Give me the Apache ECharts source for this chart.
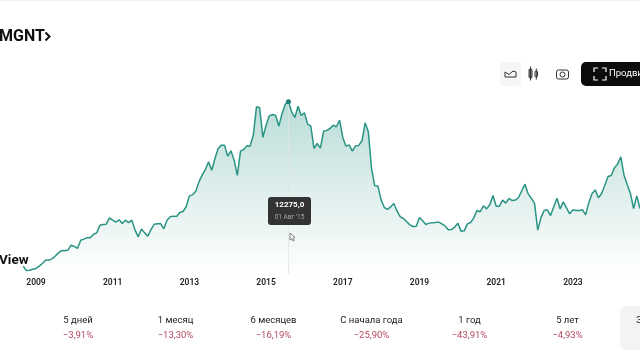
<!DOCTYPE html>
<html><head><meta charset="utf-8">
<style>html,body{margin:0;padding:0;background:#fff;overflow:hidden}#c{width:640px;height:360px}</style>
<script src="https://cdn.jsdelivr.net/npm/echarts@6/dist/echarts.min.js"></script>
</head><body><div id="c"></div>
<script>
const values = [1000,700,720,790,840,1000,1180,1410,1410,1500,1680,1910,2070,2050,2100,2440,2350,2210,2780,2850,2960,2940,3190,3280,3810,3860,3880,4310,4150,4020,4180,3920,4150,3990,4150,3470,3010,3540,3280,3060,3510,3880,3900,3920,3560,4150,4380,4430,4400,4680,4750,5070,5820,5890,6140,6780,7240,7630,8160,7580,8380,9070,9300,9300,8540,8910,8270,7220,8890,9000,9250,9230,9990,11930,11860,9830,10670,11310,11400,11330,10600,11470,12110,12275,11590,11200,11970,11330,11520,10740,10600,9070,9410,9090,10260,10310,10440,10670,10560,11010,9830,9230,9320,8890,9250,9280,9600,10830,10210,7700,6510,6490,5530,5020,4890,5070,5300,4770,4380,4270,4040,3830,3720,3740,4340,4110,3860,3950,3970,3990,4020,3900,3760,3490,3510,3670,3950,3400,3420,3900,3990,4310,4820,4730,5140,4930,5210,5850,5110,5110,5530,5320,5640,5500,5530,5710,6170,6620,5960,5660,5300,3470,4310,4820,4860,4470,5050,5660,4930,5410,5000,4590,4860,4820,4820,4860,4520,5370,5980,6230,5690,5980,6550,7150,7220,7740,8000,8500,7240,6600,5980,4950,5820,4950];
const tickYears = ['2009','2011','2013','2015','2017','2019','2021','2023'];
const statNames = ['5 дней','1 месяц','6 месяцев','С начала года','1 год','5 лет'];
const statValues = ['−3,91%','−13,30%','−16,19%','−25,90%','−43,91%','−4,93%'];
const highlightMonth = '2015-08';
const highlightValue = 12275;

const categories = values.map((_, i) => {
  const m = 8 + i;
  return (2008 + Math.floor(m / 12)) + '-' + String(m % 12 + 1).padStart(2, '0');
});
const FONT = 'Roboto, "Open Sans", sans-serif';
const TEAL = '#2a9484';
const statX = [78, 175.5, 273.5, 371.5, 469.5, 567.5];

const graphics = [];
function txt(x, y, text, o) {
  graphics.push({type:'text', x, y, silent:true, z:50, style:Object.assign({
    text, fontFamily:FONT, fontSize:9.5, fill:'#222', align:'center', verticalAlign:'middle'}, o||{})});
}
graphics.push({type:'rect', z:1, shape:{x:0,y:0,width:640,height:1}, style:{fill:'#f2f2f2'}});
txt(-1, 37, 'MGNT', {fontSize:16, fontWeight:700, align:'left', fill:'#111'});
graphics.push({type:'polyline', z:50, shape:{points:[[45.5,32.5],[49.5,36.5],[45.5,40.5]]}, style:{stroke:'#111', lineWidth:2, fill:null}});
txt(-1, 261, 'View', {fontSize:13.5, fontWeight:700, align:'left', fill:'#111'});
// toolbar
graphics.push({type:'rect', z:40, shape:{x:500,y:62,width:21,height:24,r:4}, style:{fill:'#f6f6f6'}});
graphics.push({type:'polyline', z:50, shape:{points:[[505,77],[505,72],[509,74.5],[513,71],[516,72],[516,77],[505,77]]}, style:{stroke:'#333', lineWidth:1, fill:null}});
graphics.push({type:'rect', z:50, shape:{x:529,y:69,width:3,height:9,r:1}, style:{stroke:'#333', lineWidth:1, fill:'#999'}});
graphics.push({type:'line', z:50, shape:{x1:530.5,y1:66.5,x2:530.5,y2:80.5}, style:{stroke:'#333', lineWidth:1}});
graphics.push({type:'rect', z:50, shape:{x:535,y:71,width:2.5,height:6,r:1}, style:{stroke:'#333', lineWidth:1, fill:'#fff'}});
graphics.push({type:'line', z:50, shape:{x1:536.3,y1:68.5,x2:536.3,y2:79.5}, style:{stroke:'#333', lineWidth:1}});
graphics.push({type:'rect', z:50, shape:{x:556.5,y:70,width:12,height:9,r:2}, style:{stroke:'#333', lineWidth:1, fill:'#fff'}});
graphics.push({type:'circle', z:51, shape:{cx:562.5,cy:74.5,r:2.5}, style:{stroke:'#333', lineWidth:1, fill:'#fff'}});
graphics.push({type:'rect', z:40, shape:{x:581,y:62,width:70,height:24,r:5}, style:{fill:'#0c0c0c'}});
[[[594,72],[594,68],[598,68]],[[602,68],[606,68],[606,72]],[[594,76],[594,80],[598,80]],[[602,80],[606,80],[606,76]]].forEach(p =>
  graphics.push({type:'polyline', z:50, shape:{points:p}, style:{stroke:'#fff', lineWidth:1.2, fill:null}}));
txt(609, 74, 'Продвинутый', {align:'left', fill:'#fff', fontSize:9.5});
// tooltip
graphics.push({type:'rect', z:60, shape:{x:268,y:197,width:43,height:28,r:3}, style:{fill:'#333'}});
graphics.push({type:'text', z:61, x:289.5, y:205, style:{text:'12275,0', fontFamily:FONT, fontSize:8, fontWeight:700, fill:'#fff', align:'center', verticalAlign:'middle'}});
graphics.push({type:'text', z:61, x:289.5, y:217, style:{text:"01 Авг '15", fontFamily:FONT, fontSize:6.5, fill:'#a8a8a8', align:'center', verticalAlign:'middle'}});
// pointer
graphics.push({type:'polygon', z:61, shape:{points:[[290,233],[290,240],[291.8,238.6],[293,241],[294.2,240.4],[293,238],[295,237.6]]}, style:{fill:'#fff', stroke:'#666', lineWidth:0.8}});
// period stats
statNames.forEach((n, i) => {
  txt(statX[i], 321, n, {fill:'#222'});
  txt(statX[i], 335.5, statValues[i], {fill:'#b4485f'});
});
graphics.push({type:'rect', z:40, shape:{x:620,y:306,width:40,height:44,r:6}, style:{fill:'#f3f3f3'}});
txt(639, 321, 'З', {fill:'#222', align:'center'});

const chart = echarts.init(document.getElementById('c'), null, {renderer:'canvas'});
chart.setOption({
  animation:false,
  backgroundColor:'#fff',
  grid:{left:23.2, top:80, width:619.2, height:194},
  xAxis:{type:'category', data:categories, boundaryGap:false,
    axisLine:{show:false}, axisTick:{show:false}, splitLine:{show:false},
    axisLabel:{
      margin:4, hideOverlap:false, color:'#222', fontFamily:FONT, fontSize:8.5, fontWeight:600,
      interval:(i, v) => v.endsWith('-01') && tickYears.includes(v.slice(0,4)),
      formatter:v => v.slice(0,4)
    }},
  yAxis:{type:'value', min:460, max:13768, show:false},
  series:[{
    type:'line', data:values, showSymbol:false, smooth:false,
    lineStyle:{color:TEAL, width:1.5},
    itemStyle:{color:TEAL},
    areaStyle:{color:new echarts.graphic.LinearGradient(0,0,0,1,[
      {offset:0,color:'rgba(42,148,132,0.46)'},{offset:1,color:'rgba(42,148,132,0.0)'}])},
    markPoint:{silent:true, symbol:'circle', symbolSize:5, itemStyle:{color:'#1f7f70'}, label:{show:false},
      data:[{coord:[highlightMonth, highlightValue]}]},
    markLine:{silent:true, symbol:'none', label:{show:false},
      lineStyle:{color:'#dfe5e4', width:0.8, type:'solid'},
      data:[[{xAxis:highlightMonth, yAxis:highlightValue},{xAxis:highlightMonth, yAxis:460}]]}
  }],
  graphic:graphics
});
</script></body></html>
